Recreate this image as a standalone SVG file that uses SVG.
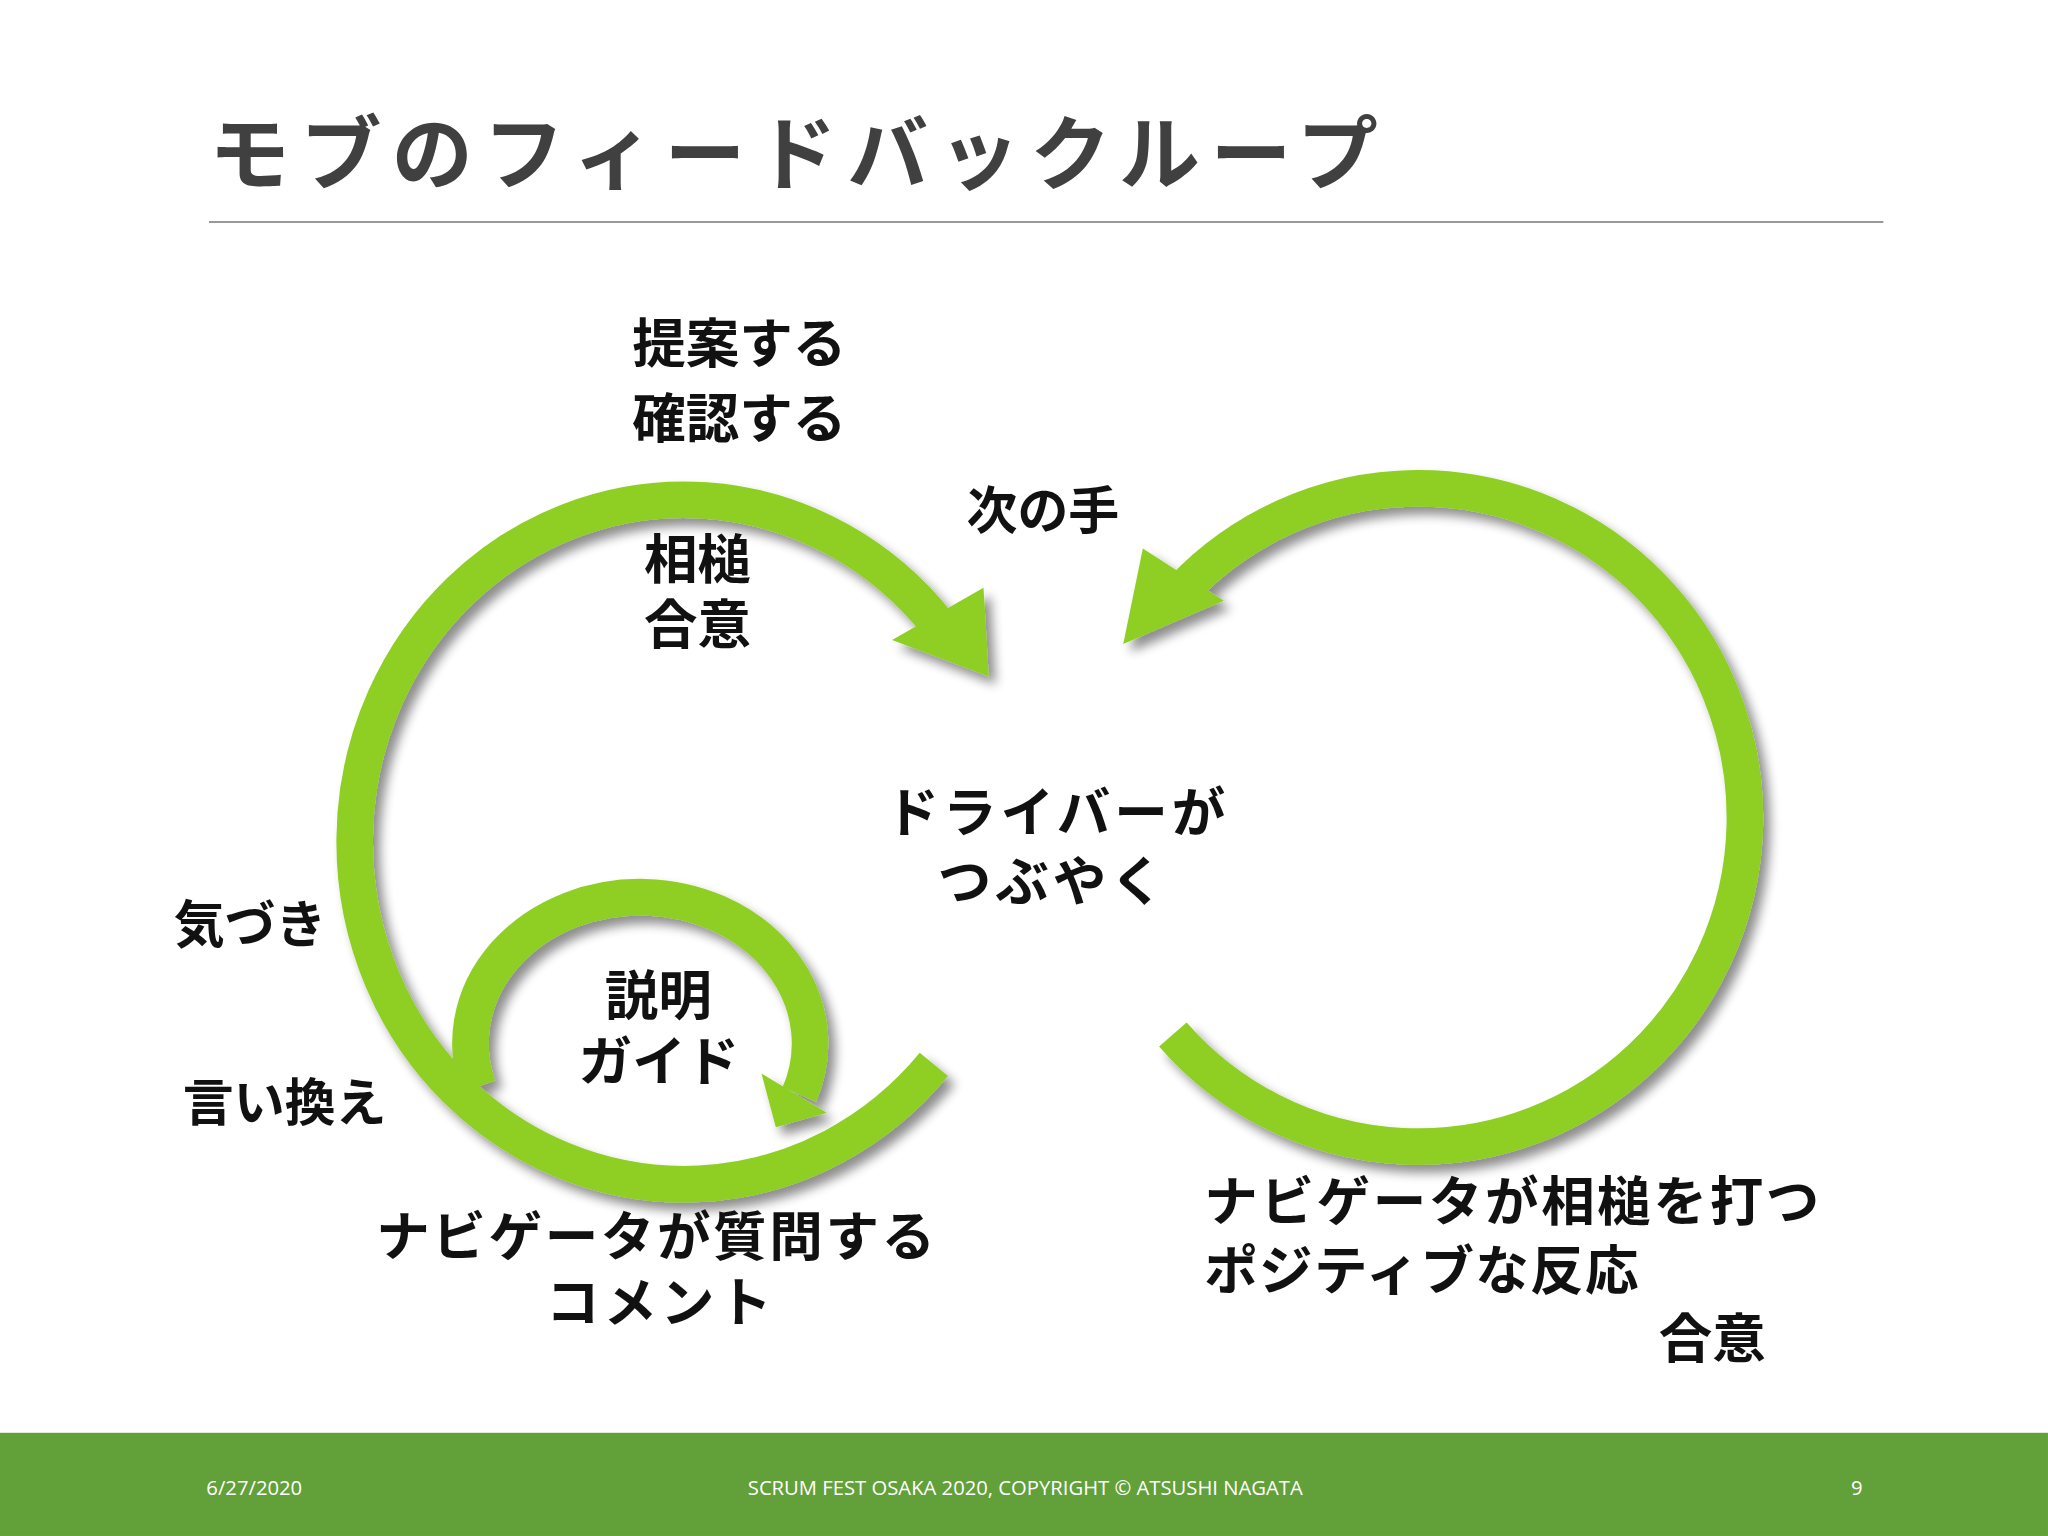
<svg xmlns="http://www.w3.org/2000/svg" width="2048" height="1536" viewBox="0 0 2048 1536">
<defs>
<filter id="sh" x="-10%" y="-10%" width="130%" height="130%">
<feGaussianBlur in="SourceAlpha" stdDeviation="4"/>
<feOffset dx="5" dy="6" result="b"/>
<feComponentTransfer><feFuncA type="linear" slope="0.45"/></feComponentTransfer>
<feMerge><feMergeNode/><feMergeNode in="SourceGraphic"/></feMerge>
</filter>
<style>
.arc{fill:none;stroke:#8fce23;stroke-width:28}
.head{fill:#8fce23}
.t{font-family:"Noto Sans CJK JP","Noto Sans",sans-serif;font-weight:bold;font-size:41px;fill:#111}
.f{font-family:"Open Sans","Liberation Sans",sans-serif;font-size:15.5px;fill:#fff}
</style>
</defs>
<rect width="2048" height="1536" fill="#fff"/>
<g transform="scale(1.3061)">
<text x="160" y="140" style="font-family:'Noto Sans CJK JP',sans-serif;font-weight:bold;font-size:62px;fill:#404040;letter-spacing:8px">モブのフィードバックループ</text>
<line x1="160" y1="170" x2="1442" y2="170" stroke="#999" stroke-width="1.5"/>
<g id="connectors" filter="url(#sh)">
<g id="bigLeft"><path class="arc" d="M715,815 A252 262 0 1 1 718,478"/><polygon class="head" points="683,490 753,450 757,518"/></g>
<g id="smallInner"><path class="arc" d="M366,832 A130 112 0 1 1 612,838"/><polygon class="head" points="583,822 633,852 594,863"/></g>
<g id="bigRight"><path class="arc" d="M898,792 A250 252 0 1 0 905,452"/><polygon class="head" points="860,493 937,460 875,420"/></g>
</g>
<g id="labels">
<text class="t" x="484" y="278">提案する</text>
<text class="t" x="484" y="335">確認する</text>
<text class="t" x="740" y="405" style="font-size:39px">次の手</text>
<text class="t" x="493" y="443">相槌</text>
<text class="t" x="493" y="493">合意</text>
<text class="t" x="678" y="637" style="letter-spacing:3px">ドライバーが</text>
<text class="t" x="718" y="690" style="letter-spacing:3px">つぶやく</text>
<text class="t" x="133" y="722" style="font-size:39px">気づき</text>
<text class="t" x="463" y="777">説明</text>
<text class="t" x="443" y="828">ガイド</text>
<text class="t" x="140" y="858" style="font-size:39px">言い換え</text>
<text class="t" x="288" y="962" style="letter-spacing:2px">ナビゲータが質問する</text>
<text class="t" x="418" y="1012" style="letter-spacing:3px">コメント</text>
<text class="t" x="922" y="935" style="letter-spacing:2px">ナビゲータが相槌を打つ</text>
<text class="t" x="922" y="988" style="letter-spacing:1px">ポジティブな反応</text>
<text class="t" x="1270" y="1040">合意</text>
</g>
<rect x="0" y="1097" width="1568" height="79" fill="#62a03a"/>
<text class="f" x="158" y="1145">6/27/2020</text>
<text class="f" x="785" y="1145" text-anchor="middle">SCRUM FEST OSAKA 2020, COPYRIGHT © ATSUSHI NAGATA</text>
<text class="f" x="1426" y="1145" text-anchor="end">9</text>
</g>
</svg>
